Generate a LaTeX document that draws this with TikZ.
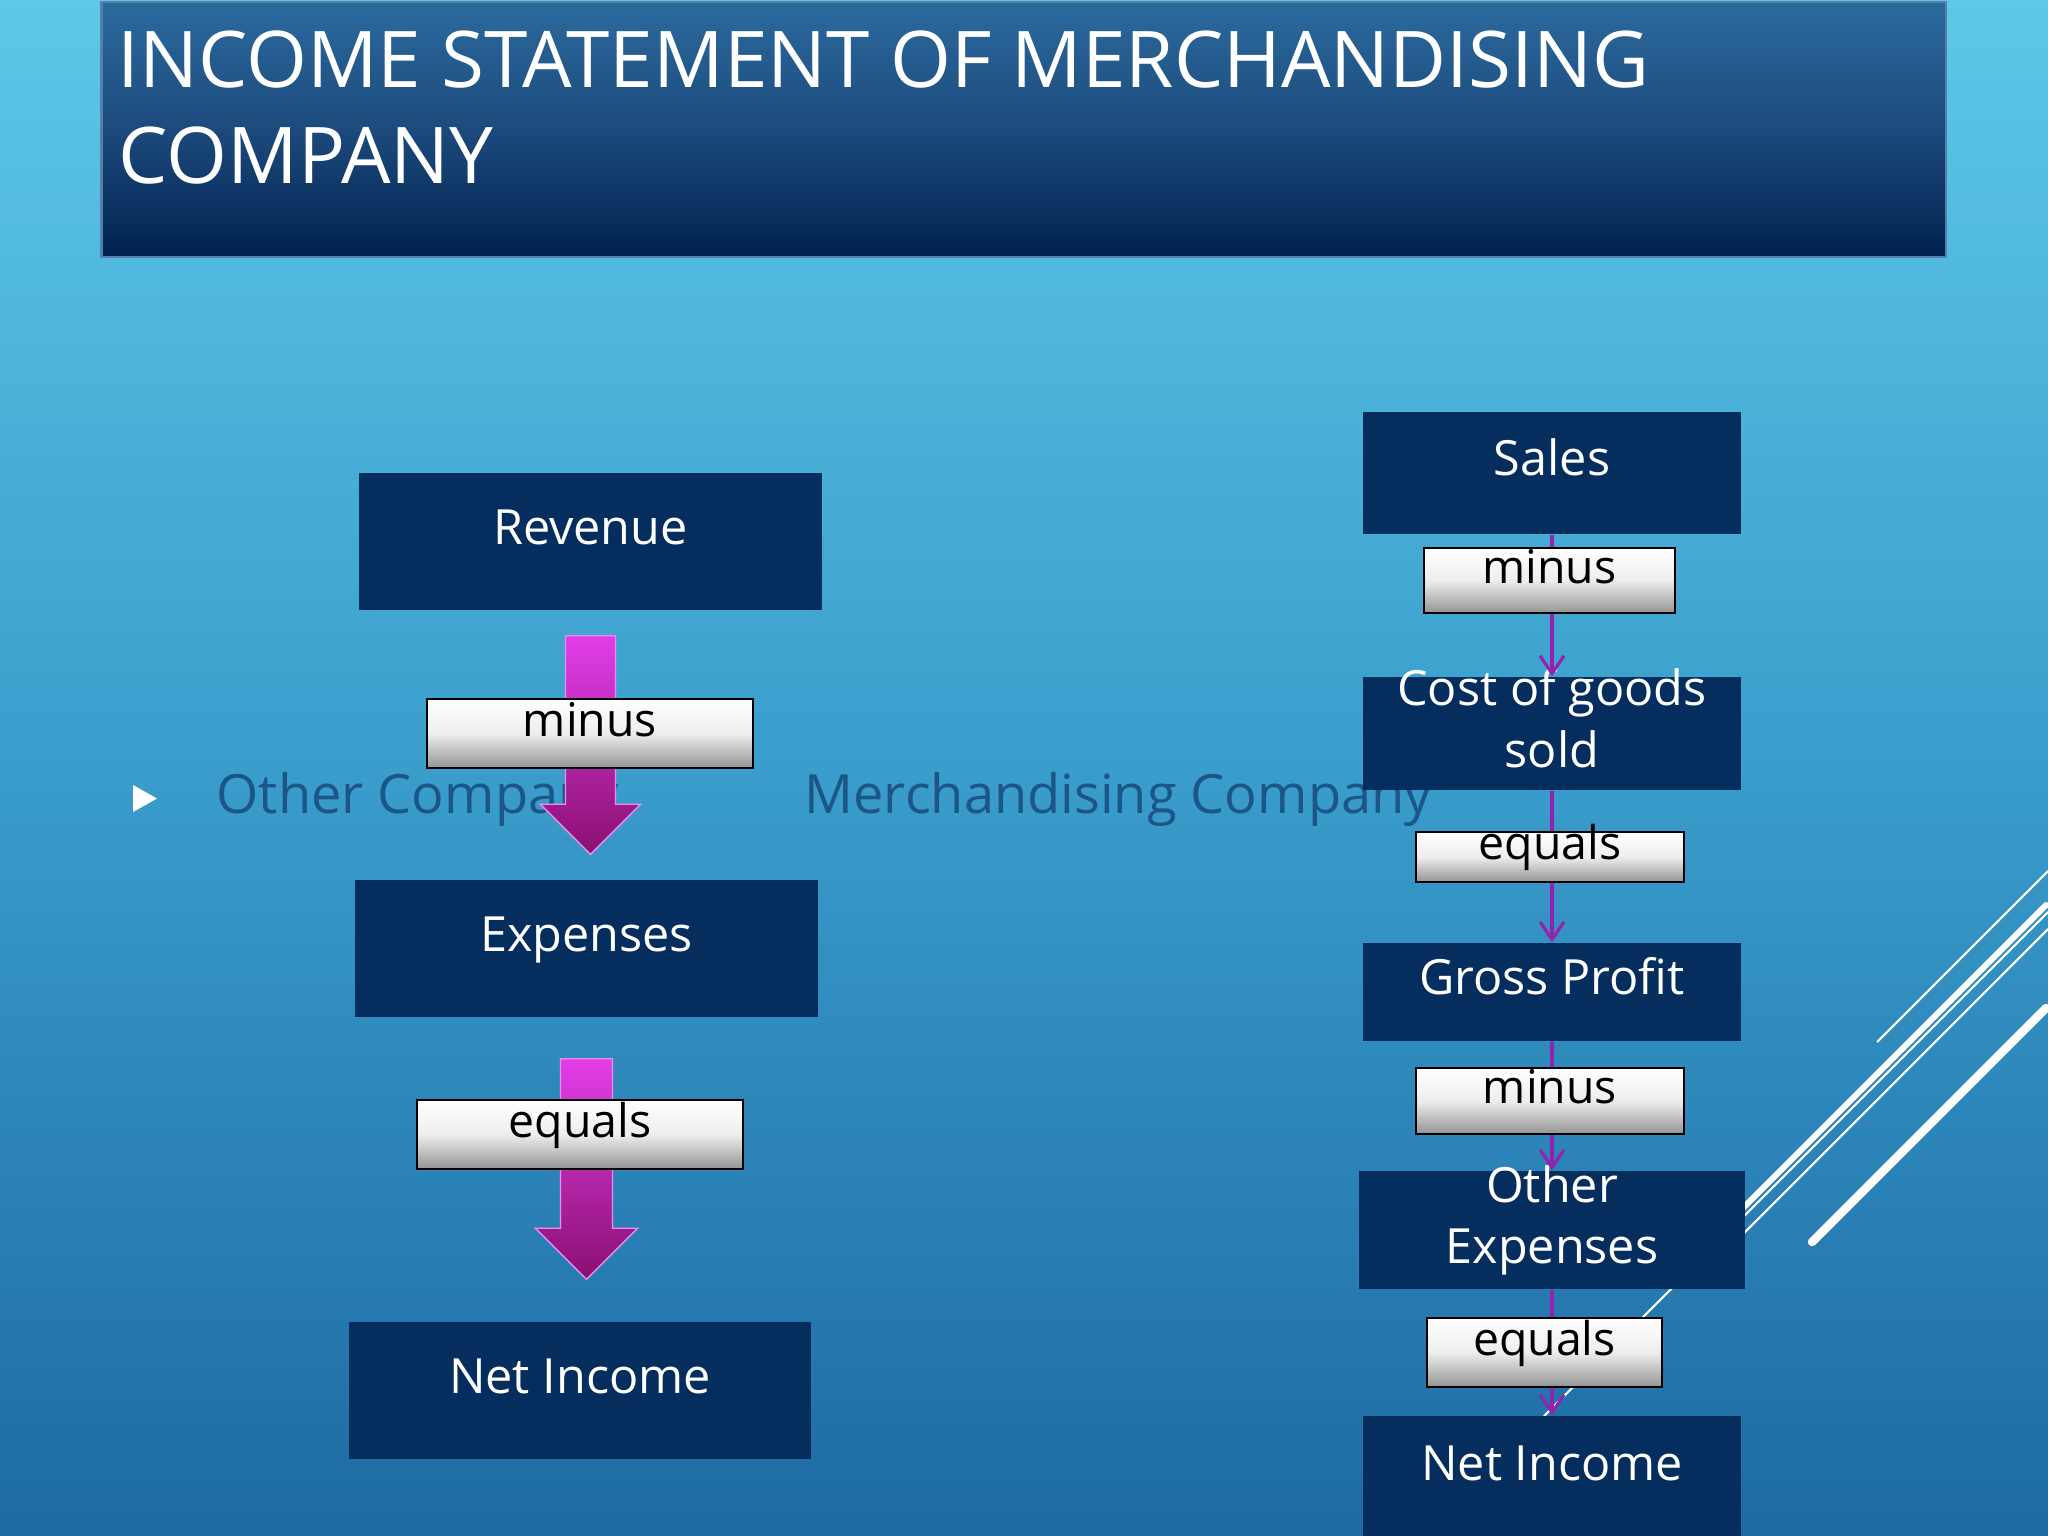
\documentclass[tikz,border=0pt]{standalone}
\usepackage{fontspec}
\setmainfont{Open Sans}
\usetikzlibrary{arrows.meta,calc}

\definecolor{bgtop}{RGB}{93,200,232}
\definecolor{bgmid}{RGB}{58,157,204}
\definecolor{bgbot}{RGB}{29,106,162}
\definecolor{titletop}{RGB}{44,106,158}
\definecolor{titlemid}{RGB}{28,74,124}
\definecolor{titlebot}{RGB}{0,34,80}
\definecolor{titleedge}{RGB}{84,128,168}
\definecolor{navy}{RGB}{5,46,94}
\definecolor{pinktop}{RGB}{226,62,232}
\definecolor{pinkbot}{RGB}{138,16,112}
\definecolor{flowpurple}{RGB}{148,34,176}
\definecolor{bullettext}{RGB}{28,86,134}

\begin{document}
\begin{tikzpicture}[x=0.01cm,y=-0.01cm,
	navybox/.style={fill=navy,inner sep=0pt,text=white,font=\fontsize{13.8}{17.6}\selectfont,text height=6pt,text depth=4.4pt},
	navytxt/.style={anchor=base,inner sep=0pt,text=white,font=\fontsize{13.8}{17.6}\selectfont},
	tagbox/.style={draw=black,line width=0.6pt,top color=white,bottom color=black!42,middle color=white!93!black,inner sep=0pt,font=\fontsize{13.2}{16}\selectfont,text height=6pt,text depth=4.4pt},
	flow/.style={draw=flowpurple,line width=0.9pt,-{Straight Barb[length=5pt,width=6.8pt]}},
	pinkarrow/.style={top color=pinktop,bottom color=pinkbot,draw=pinktop!60!white,line width=0.4pt},
	titletxt/.style={anchor=base west,inner sep=0pt,text=white,font=\fontsize{22.25}{26}\selectfont},
	bullettxt/.style={anchor=base west,inner sep=0pt,text=bullettext,font=\fontsize{15.4}{18}\selectfont}]

	\useasboundingbox (0,0) rectangle (2048,1536);
	\shade[top color=bgtop,bottom color=bgbot,middle color=bgmid] (0,0) rectangle (2048,1536); %backdrop

	%slide lines
	\draw[white,line width=0.6pt] (1877,1042) -- (2048,871); %short thin
	\draw[white,line width=1.7pt,line cap=round] (1680,1271) -- (2046,905); %thick
	\draw[white,line width=0.6pt] (1544,1416) -- (2048,912); %long thin
	\draw[white,line width=0.6pt] (1700,1277) -- (2048,929); %thin
	\draw[white,line width=2.4pt,line cap=round] (1812,1242) -- (2046,1008); %lower thick

	%title bar
	\node[top color=titletop,bottom color=titlebot,middle color=titlemid,draw=titleedge,line width=0.6pt,minimum width=18.43cm,minimum height=2.55cm,inner sep=0pt] (titlebar) at (1023.5,129.5) {};
	\node[titletxt] (title1) at (117,87) {INCOME STATEMENT OF MERCHANDISING};
	\node[titletxt] (title2) at (118,183) {COMPANY};

	%bullet line
	\fill[white] (133,785) -- (157,798.5) -- (133,812) -- cycle;
	\node[bullettxt] (other) at (216,813) {Other Company};
	\node[bullettxt] (merch) at (804,813) {Merchandising Company};

	%other company
	\node[navybox,minimum width=4.63cm,minimum height=1.37cm] (rev) at (590.5,541.5) {Revenue};
	\node[navybox,minimum width=4.63cm,minimum height=1.37cm] (exp) at (586.5,948.5) {Expenses};
	\node[navybox,minimum width=4.62cm,minimum height=1.37cm] (netl) at (580,1390.5) {Net Income};

	\shadedraw[pinkarrow] ($(rev.south)+(-25,25)$) -- ($(rev.south)+(25,25)$) -- ($(rev.south |- exp.north)+(25,-75)$) -- ($(rev.south |- exp.north)+(50,-75)$) -- ($(rev.south |- exp.north)+(0,-25)$) -- ($(rev.south |- exp.north)+(-50,-75)$) -- ($(rev.south |- exp.north)+(-25,-75)$) -- cycle; %minus arrow
	\shadedraw[pinkarrow] ($(exp.south)+(-26,41)$) -- ($(exp.south)+(26,41)$) -- ($(exp.south |- netl.north)+(26,-93)$) -- ($(exp.south |- netl.north)+(51,-93)$) -- ($(exp.south |- netl.north)+(0,-42)$) -- ($(exp.south |- netl.north)+(-51,-93)$) -- ($(exp.south |- netl.north)+(-26,-93)$) -- cycle; %equals arrow

	\node[tagbox,minimum width=3.25cm,minimum height=0.69cm] (lminus) at (590,733.5) {minus};
	\node[tagbox,minimum width=3.26cm,minimum height=0.69cm] (lequals) at (580,1134.5) {equals};

	%merchandising company
	\node[navybox,minimum width=3.78cm,minimum height=1.22cm] (sales) at (1552,473) {Sales};
	\node[navybox,minimum width=3.78cm,minimum height=1.13cm] (cogs) at (1552,733.5) {};
	\node[navytxt] (cogsa) at ($(cogs)+(0,-28.5)$) {Cost of goods};
	\node[navytxt] (cogsb) at ($(cogs)+(0,33.5)$) {sold};
	\node[navybox,minimum width=3.78cm,minimum height=0.98cm] (gp) at (1552,992) {Gross Profit};
	\node[navybox,minimum width=3.86cm,minimum height=1.18cm] (oexp) at (1552,1230) {};
	\node[navytxt] (oexpa) at ($(oexp)+(0,-28)$) {Other};
	\node[navytxt] (oexpb) at ($(oexp)+(0,33)$) {Expenses};
	\node[navybox,minimum width=3.78cm,minimum height=1.24cm] (netr) at (1552,1478) {Net Income};

	\draw[flow] (sales) -- (cogs);
	\draw[flow] (cogs) -- (gp);
	\draw[flow] (gp) -- (oexp);
	\draw[flow] (oexp) -- (netr);

	\node[tagbox,minimum width=2.51cm,minimum height=0.65cm] (rminus1) at (1549.5,580.5) {minus};
	\node[tagbox,minimum width=2.68cm,minimum height=0.50cm] (requals1) at (1550,857) {equals};
	\node[tagbox,minimum width=2.68cm,minimum height=0.66cm] (rminus2) at (1550,1101) {minus};
	\node[tagbox,minimum width=2.35cm,minimum height=0.69cm] (requals2) at (1544.5,1352.5) {equals};
\end{tikzpicture}
\end{document}
